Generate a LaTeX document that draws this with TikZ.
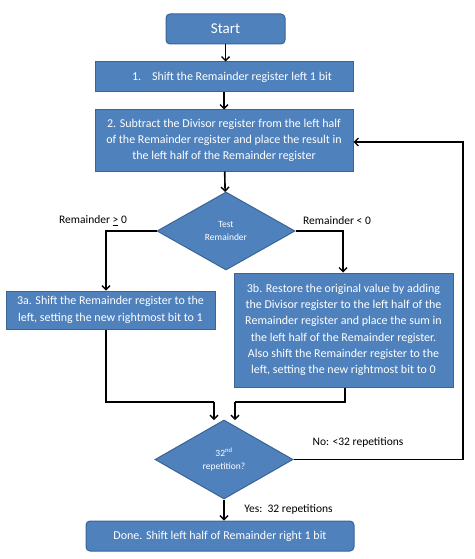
\documentclass[tikz,border=0pt]{standalone}
\usepackage{fontspec}
\setmainfont{Carlito}
\usetikzlibrary{shapes.geometric,arrows.meta}
\definecolor{boxfill}{HTML}{4F81BD}
\definecolor{boxline}{HTML}{3A6595}
\tikzset{
  procbox/.style={draw=boxline, line width=1pt, fill=boxfill, text=white, inner sep=0pt, align=center, font=\fontsize{12}{16.3}\selectfont},
  roundbox/.style={procbox, rounded corners=4pt},
  decision/.style={diamond, draw=boxline, line width=1pt, fill=boxfill, text=white, inner sep=0pt, align=center, font=\fontsize{9.5}{12.5}\selectfont},
  flow/.style={line width=1.6pt, -{Straight Barb[length=4pt,width=8pt,line width=1.4pt]}},
  plain/.style={line width=1.6pt},
  lbl/.style={font=\fontsize{11.5}{14}\selectfont, text=black, inner sep=0pt},
}
\begin{document}
\begin{tikzpicture}[x=1pt,y=-1pt]
\useasboundingbox (0,0) rectangle (474,559);
\node[roundbox, minimum width=119pt, minimum height=30pt, font=\fontsize{15}{18}\selectfont] (start) at (225.5,29) {Start};
\node[procbox, minimum width=258pt, minimum height=30pt] (s1) at (224,77) {};
\node[text=white, font=\fontsize{12}{16}\selectfont, inner sep=0pt] (s1t) at (232,77) {1.\hspace{0.9em}Shift the Remainder register left 1 bit};
\node[procbox, minimum width=258pt, minimum height=61pt] (s2) at (224,140.5) {2. Subtract the Divisor register from the left half\\of the Remainder register and place the result in\\the left half of the Remainder register};
\node[decision, minimum width=138pt, minimum height=78pt] (test) at (226,231) {Test\\Remainder};
\node[procbox, minimum width=209pt, minimum height=38pt] (s3a) at (110.5,310) {3a. Shift the Remainder register to the\\left, setting the new rightmost bit to 1};
\node[procbox, minimum width=219pt, minimum height=114pt] (s3b) at (343.5,330) {3b. Restore the original value by adding\\the Divisor register to the left half of the\\Remainder register and place the sum in\\the left half of the Remainder register.\\Also shift the Remainder register to the\\left, setting the new rightmost bit to 0};
\node[decision, minimum width=138pt, minimum height=79pt] (rep) at (224,459.5) {32\textsuperscript{nd}\\repetition?};
\node[roundbox, minimum width=268pt, minimum height=30pt] (done) at (220,536) {Done. Shift left half of Remainder right 1 bit};

\node[lbl] (lge) at (93,221) {Remainder \underline{>} 0};
\node[lbl] (llt) at (337,221) {Remainder < 0};
\node[lbl] (lno) at (358,442) {No: <32 repetitions};
\node[lbl] (lyes) at (288.5,509) {Yes:\ \ 32 repetitions};

\coordinate (a1) at (106,231);
\coordinate (b1) at (343,231);
\coordinate (a2) at (106,402);
\coordinate (a3) at (214,402);
\coordinate (a4) at (214,420);
\coordinate (b2) at (345,402);
\coordinate (b3) at (235,402);
\coordinate (b4) at (235,420);
\coordinate (l1) at (463,459.5);
\coordinate (l2) at (463,142);

\draw[flow] (start) -- (start |- s1.north);
\draw[flow] (s1) -- (s2);
\draw[flow] (s2) -- (test);
\draw[flow] (test.west) -- (a1) -- (a1 |- s3a.north);
\draw[flow] (test.east) -- (b1) -- (b1 |- s3b.north);
\draw[plain] (s3a.south -| a2) -- (a2) -- (a3);
\draw[flow] (a3) -- (a4);
\draw[plain] (s3b.south -| b2) -- (b2) -- (b3);
\draw[flow] (b3) -- (b4);
\draw[flow] (rep.east) -- (l1) -- (l2) -- (s2.east |- l2);
\draw[flow] (rep.south) -- (rep.south |- done.north);
\end{tikzpicture}
\end{document}
